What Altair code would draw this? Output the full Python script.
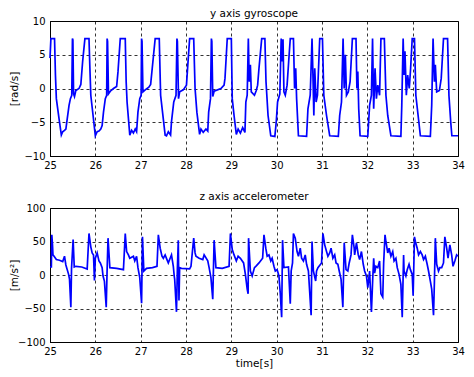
import altair as alt
import pandas as pd

gyro_time = [25.00, 25.02, 25.10, 25.12, 25.14, 25.20, 25.25, 25.28, 25.32, 25.35, 25.38, 25.42, 25.45, 25.48, 25.495, 25.505,
             25.52, 25.54, 25.57, 25.64, 25.68, 25.72, 25.77, 25.86, 25.88, 25.90, 25.95, 26.00, 26.04, 26.08, 26.12, 26.15,
             26.18, 26.22, 26.25, 26.26, 26.27, 26.29, 26.33, 26.40, 26.47, 26.50, 26.55, 26.66, 26.68, 26.70, 26.76, 26.80,
             26.84, 26.88, 26.91, 26.94, 26.98, 27.01, 27.02, 27.03, 27.05, 27.10, 27.18, 27.22, 27.27, 27.32, 27.41, 27.44,
             27.54, 27.57, 27.61, 27.66, 27.68, 27.73, 27.78, 27.80, 27.81, 27.835, 27.86, 27.94, 28.01, 28.04, 28.08, 28.17,
             28.20, 28.24, 28.30, 28.33, 28.38, 28.44, 28.48, 28.50, 28.54, 28.56, 28.57, 28.59, 28.62, 28.77, 28.84, 28.86,
             28.91, 29.00, 29.02, 29.06, 29.11, 29.15, 29.20, 29.25, 29.30, 29.32, 29.35, 29.375, 29.395, 29.42, 29.44, 29.51,
             29.55, 29.58, 29.61, 29.67, 29.74, 29.765, 29.81, 29.87, 29.96, 29.99, 30.02, 30.07, 30.10, 30.12, 30.14, 30.16,
             30.19, 30.23, 30.265, 30.30, 30.37, 30.395, 30.42, 30.44, 30.48, 30.66, 30.69, 30.74, 30.78, 30.80, 30.82, 30.84,
             30.87, 30.90, 30.95, 31.01, 31.04, 31.10, 31.17, 31.36, 31.39, 31.43, 31.465, 31.49, 31.515, 31.54, 31.58, 31.62,
             31.67, 31.75, 31.77, 31.79, 31.81, 31.84, 32.01, 32.05, 32.09, 32.115, 32.14, 32.17, 32.20, 32.23, 32.27, 32.30,
             32.375, 32.41, 32.45, 32.52, 32.74, 32.76, 32.79, 32.81, 32.83, 32.86, 32.89, 32.925, 32.955, 32.99, 33.04, 33.07,
             33.12, 33.17, 33.39, 33.42, 33.45, 33.48, 33.50, 33.53, 33.59, 33.63, 33.68, 33.77, 33.80, 33.84, 33.865, 34.00]
gyro_value = [4.5, 7.4, 7.4, 2.0, -1.5, -4.5, -6.9, -6.4, -6.2, -6.0, -4.5, -2.5, -1.5, -1.0, 7.4, 7.2,
              -0.8, -1.2, -0.3, 0.0, 0.6, 4.0, 7.4, 7.4, 3.0, -1.0, -4.0, -7.0, -6.4, -6.3, -6.0, -5.5,
              -3.5, -1.5, -1.0, 7.4, 7.0, -0.8, -0.4, 0.0, 0.3, 2.5, 7.4, 7.4, 1.0, -2.0, -6.9, -6.2,
              -6.6, -6.0, -6.4, -3.5, -1.5, -1.0, 7.4, 7.0, -0.5, -0.2, 0.2, 0.6, 4.0, 7.4, 7.4, -1.0,
              -6.9, -7.0, -6.4, -6.9, -4.9, -2.0, -1.0, 7.4, 7.0, -1.5, -0.5, -0.2, 0.5, 3.5, 7.4, 7.4,
              0.0, -3.5, -6.8, -6.0, -6.5, -6.0, -6.3, -3.5, -1.5, 7.4, 7.0, -1.2, -0.4, 0.0, 0.5, 1.5,
              7.4, 7.4, -1.5, -4.0, -6.8, -6.0, -6.6, -5.8, -6.5, -2.0, -1.0, 7.4, 1.0, 3.5, -0.5, -1.0,
              -0.3, 0.5, 3.0, 7.4, 7.4, 1.0, -4.0, -7.0, -7.1, -5.0, -2.0, -0.8, 7.4, 4.0, 7.3, -0.5,
              -1.0, 0.5, 4.0, 7.4, 7.4, 0.0, 3.0, -1.5, -7.0, -7.1, -3.0, -1.0, 7.4, 2.0, -4.0, 3.0,
              -2.0, -1.0, 7.4, 7.4, -1.0, -4.0, -7.0, -7.1, -4.0, -2.0, 7.4, 0.0, 5.0, -1.0, -0.5, 1.0,
              7.4, 7.4, 0.0, 2.5, -3.0, -7.0, -7.1, -2.5, -1.0, 7.4, -3.0, 3.0, -1.5, 0.5, -1.0, 7.4,
              7.4, -1.0, -4.0, -7.0, -7.1, -2.5, 7.4, 2.0, 5.5, -1.0, 2.0, 0.0, 3.0, 7.4, 7.4, -1.0,
              -4.0, -7.0, -7.1, -2.5, 7.4, 1.0, 3.5, -0.5, -0.3, 1.5, 7.4, 7.4, -1.0, -5.0, -7.0, -7.0]

acc_time = [25.00, 25.03, 25.04, 25.055, 25.065, 25.09, 25.14, 25.21, 25.28, 25.32, 25.35, 25.41, 25.43, 25.46, 25.475, 25.51,
            25.535, 25.57, 25.70, 25.82, 25.86, 25.90, 25.93, 25.96, 25.98, 26.00, 26.04, 26.08, 26.11, 26.15, 26.17, 26.20,
            26.24, 26.26, 26.28, 26.32, 26.47, 26.62, 26.66, 26.69, 26.73, 26.76, 26.84, 26.87, 26.91, 26.94, 26.98, 27.02,
            27.04, 27.07, 27.13, 27.26, 27.36, 27.39, 27.43, 27.47, 27.50, 27.54, 27.58, 27.61, 27.65, 27.68, 27.72, 27.74,
            27.75, 27.79, 27.81, 27.83, 27.845, 27.86, 27.90, 28.08, 28.11, 28.17, 28.20, 28.22, 28.29, 28.37, 28.40, 28.48,
            28.51, 28.55, 28.59, 28.62, 28.66, 28.80, 28.95, 28.98, 29.02, 29.06, 29.11, 29.15, 29.20, 29.27, 29.31, 29.35,
            29.37, 29.38, 29.42, 29.46, 29.51, 29.54, 29.61, 29.69, 29.72, 29.76, 29.79, 29.83, 29.87, 29.90, 29.94, 29.97,
            30.01, 30.05, 30.08, 30.11, 30.13, 30.16, 30.26, 30.30, 30.32, 30.35, 30.37, 30.41, 30.45, 30.48, 30.52, 30.55,
            30.59, 30.63, 30.66, 30.70, 30.76, 30.78, 30.81, 30.86, 30.88, 30.91, 30.99, 31.02, 31.06, 31.10, 31.13, 31.17,
            31.20, 31.24, 31.28, 31.31, 31.35, 31.38, 31.42, 31.46, 31.49, 31.53, 31.57, 31.60, 31.64, 31.67, 31.71, 31.72,
            31.76, 31.80, 31.83, 31.87, 31.91, 31.94, 31.98, 32.01, 32.05, 32.09, 32.12, 32.14, 32.16, 32.19, 32.23, 32.27,
            32.30, 32.34, 32.36, 32.39, 32.41, 32.45, 32.48, 32.52, 32.56, 32.59, 32.63, 32.66, 32.70, 32.74, 32.77, 32.80,
            32.81, 32.85, 32.88, 32.92, 32.95, 32.99, 33.01, 33.04, 33.06, 33.10, 33.13, 33.17, 33.21, 33.24, 33.28, 33.32,
            33.35, 33.39, 33.42, 33.46, 33.48, 33.50, 33.53, 33.57, 33.60, 33.64, 33.68, 33.71, 33.75, 33.78, 33.82, 33.86,
            33.89, 33.93, 33.97, 34.00]
acc_value = [12, 12, 60, 45, 30, 28, 23, 22, 20, 28, 15, 1, -6, -48, 10, 53,
             12, 13, 12, 9, 62, 42, 33, 30, -8, 25, 33, 21, 18, 11, -1.5, -9,
             -48, 8, 55, 11, 10, 8, 62, 35, 30, 25, 28, 21, 28, 11, -4, -42,
             57, 6, 10, 11, 13, 60, 40, 28, 25, 30, 23, 18, 25, 30, 13, -1.5,
             -6, -55, 10, 52, -38, 11, 10, 9, 13, 55, 33, 28, 25, 23, 30, 21,
             11, -4, -36, 52, 11, 10, 13, 62, 38, 30, 21, 28, 25, 18, 1, -21,
             -28, 55, 6, -1.5, 11, 13, 18, 25, 60, 40, 28, 30, 21, 25, 13, 6,
             8, -1.5, -28, -63, 52, 11, 12, -43, 6, 18, 62, 55, 35, 28, 40, 25,
             21, 30, 16, 6, -60, 50, 6, -9, 6, 11, 18, 62, 45, 35, 28, 33,
             40, 25, 30, 18, 16, 6, -6, -48, 48, 8, 6, 18, 30, 60, 40, 30,
             48, 30, 23, 35, 16, 6, -1.5, -19, 6, -55, -4, 25, 3, 13, 11, 21,
             -28, -33, 18, 60, 50, 33, 40, 28, 35, 21, 25, 11, 1, -14, -63, 30,
             6, -1.5, 8, 16, 8, 1, -31, 57, 50, 40, 30, 35, 30, 23, 28, 16,
             6, -9, -21, -60, -9, 55, 16, 6, 11, 11, 18, 57, 40, 25, 45, 30,
             13, 21, 30, 28]

x_ticks = [25, 26, 27, 28, 29, 30, 31, 32, 33, 34]
gyro_ticks = [-10, -5, 0, 5, 10]
acc_ticks = [-100, -50, 0, 50, 100]

FONT = "DejaVu Sans"
BLUE = "#0000ff"

gyro_df = pd.DataFrame({"t": gyro_time, "v": gyro_value})
acc_df = pd.DataFrame({"t": acc_time, "v": acc_value})


def xaxis(title=None):
    return alt.Axis(values=x_ticks, grid=True, format="d", labelPadding=4,
                    labelFlush=False, title=title)


top = alt.Chart(gyro_df, title=alt.Title("y axis gyroscope", offset=-3)).mark_line(
    color=BLUE, strokeWidth=1.7
).encode(
    x=alt.X("t:Q", scale=alt.Scale(domain=[25, 34], nice=False, zero=False), axis=xaxis()),
    y=alt.Y("v:Q", scale=alt.Scale(domain=[-10, 10], nice=False),
            axis=alt.Axis(values=gyro_ticks, title="[rad/s]", titleX=-31, grid=True, labelFlush=False)),
).properties(width=408, height=135)

bottom = alt.Chart(acc_df, title=alt.Title("z axis accelerometer", offset=1)).mark_line(
    color=BLUE, strokeWidth=1.7
).encode(
    x=alt.X("t:Q", scale=alt.Scale(domain=[25, 34], nice=False, zero=False), axis=xaxis("time[s]")),
    y=alt.Y("v:Q", scale=alt.Scale(domain=[-100, 100], nice=False),
            axis=alt.Axis(values=acc_ticks, title="[m/s²]", titleX=-31, grid=True, labelFlush=False)),
).properties(width=408, height=134)

chart = alt.vconcat(top, bottom, spacing=20).properties(
    padding={"left": 0, "top": 0, "right": 0, "bottom": 0}
).configure(
    font=FONT
).configure_view(
    stroke="black", strokeWidth=1
).configure_axis(
    labelFont=FONT, labelFontSize=10, labelColor="black",
    titleFont=FONT, titleFontSize=10.5, titleFontWeight="normal", titleColor="black",
    ticks=False, domain=True, domainColor="black", domainWidth=1,
    gridColor="black", gridDash=[3, 3], gridWidth=0.8, gridOpacity=1,
    labelPadding=5,
).configure_axisX(titlePadding=2).configure_title(
    font=FONT, fontSize=10.5, fontWeight="normal", color="black"
)

chart.save("out.html", embed_options={"renderer": "svg", "actions": False})
